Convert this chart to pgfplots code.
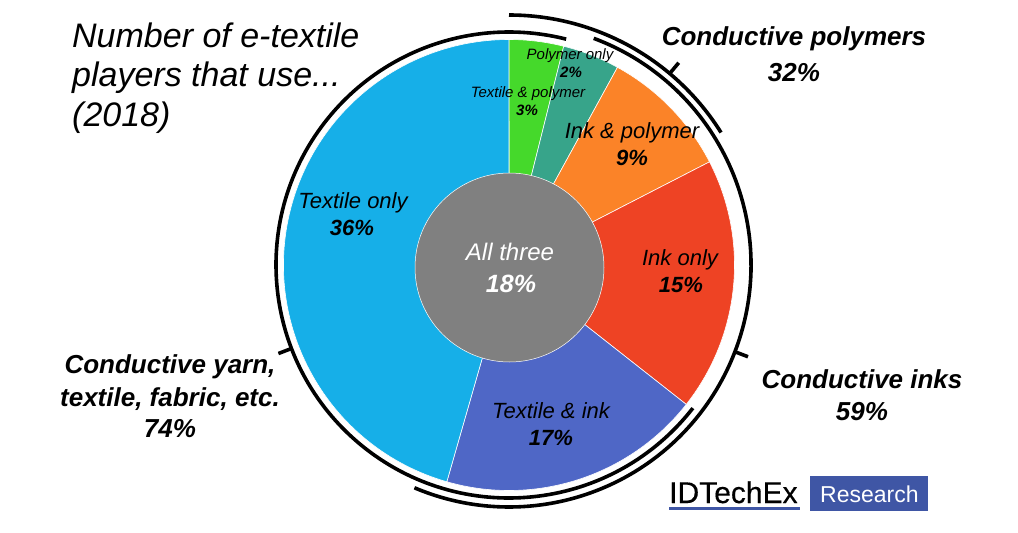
\documentclass[border=0pt]{standalone}
\usepackage{pgfplots}
\pgfplotsset{compat=1.18}
\usepackage{fontspec}
\setmainfont{Liberation Sans}
\newfontfamily\logofont[FakeBold=0.35]{Liberation Sans}

\definecolor{cGreen}{HTML}{45D92B}
\definecolor{cTeal}{HTML}{37A48A}
\definecolor{cOrange}{HTML}{FB8328}
\definecolor{cRed}{HTML}{EE4324}
\definecolor{cPurple}{HTML}{4F67C6}
\definecolor{cCyan}{HTML}{16AFE8}
\definecolor{cGray}{HTML}{808080}
\definecolor{logoBlue}{HTML}{3F56A5}

\newcommand\fs[1]{\fontsize{#1}{#1}\selectfont}

\begin{document}
\begin{tikzpicture}
% slice sizes of the outer ring as drawn, clockwise from the top
% (textile & polymer, polymer only, ink & polymer, ink only, textile & ink, textile only)
\pgfmathsetmacro\tot{3.2+3.35+7.75+14.9+15.45+37.35}
\pgfmathsetmacro\aA{90}
\pgfmathsetmacro\aB{\aA-3.2/\tot*360}
\pgfmathsetmacro\aC{\aB-3.35/\tot*360}
\pgfmathsetmacro\aD{\aC-7.75/\tot*360}
\pgfmathsetmacro\aE{\aD-14.9/\tot*360}
\pgfmathsetmacro\aF{\aE-15.45/\tot*360}
\pgfmathsetmacro\aG{\aF-37.35/\tot*360}
\def\cx{509}\def\cy{265}\def\R{225.5}
\begin{axis}[
    scale only axis,
    width=1018pt, height=533pt,
    xmin=0, xmax=1018, ymin=0, ymax=533,
    y dir=reverse,
    hide axis,
    clip=false,
  ]
  \path (axis cs:0,0) rectangle (axis cs:1018,533);

  % wedges
  \fill[cGreen, draw=white, line width=0.6pt] (axis cs:\cx,\cy) -- ++(\aA:\R pt) arc[start angle=\aA, end angle=\aB, radius=\R pt] -- cycle;
  \fill[cTeal, draw=white, line width=0.6pt] (axis cs:\cx,\cy) -- ++(\aB:\R pt) arc[start angle=\aB, end angle=\aC, radius=\R pt] -- cycle;
  \fill[cOrange, draw=white, line width=0.6pt] (axis cs:\cx,\cy) -- ++(\aC:\R pt) arc[start angle=\aC, end angle=\aD, radius=\R pt] -- cycle;
  \fill[cRed, draw=white, line width=0.6pt] (axis cs:\cx,\cy) -- ++(\aD:\R pt) arc[start angle=\aD, end angle=\aE, radius=\R pt] -- cycle;
  \fill[cPurple, draw=white, line width=0.6pt] (axis cs:\cx,\cy) -- ++(\aE:\R pt) arc[start angle=\aE, end angle=\aF, radius=\R pt] -- cycle;
  \fill[cCyan, draw=white, line width=0.6pt] (axis cs:\cx,\cy) -- ++(\aF:\R pt) arc[start angle=\aF, end angle=\aG, radius=\R pt] -- cycle;

  % centre: all three
  \fill[cGray, draw=white, line width=0.5pt] (axis cs:509.5,267.5) circle[radius=94.5pt];

  % group arcs (textile, inks, polymers)
  \draw[line width=3.6pt] (axis cs:\cx,\cy) ++(-37.9:233pt) arc[start angle=-37.9, end angle=-284.2, radius=233pt];
  \draw[line width=3.6pt] (axis cs:\cx,\cy) ++(69.5:242pt) arc[start angle=69.5, end angle=-113, radius=242pt];
  \draw[line width=3.6pt] (axis cs:\cx,\cy) ++(90:250pt) arc[start angle=90, end angle=32, radius=250pt];
  % pointer ticks
  \draw[line width=3.6pt] (axis cs:\cx,\cy) ++(50:250pt) -- ++(50:14pt);
  \draw[line width=3.6pt] (axis cs:\cx,\cy) ++(-21:242pt) -- ++(-21:14pt);
  \draw[line width=3.6pt] (axis cs:\cx,\cy) ++(-159:233pt) -- ++(-159:14pt);

  % title
  \node[anchor=base west, font=\fs{34}\itshape, inner sep=0pt] at (axis cs:72,47) {Number of e-textile};
  \node[anchor=base west, font=\fs{34}\itshape, inner sep=0pt] at (axis cs:72,86) {players that use...};
  \node[anchor=base west, font=\fs{34}\itshape, inner sep=0pt] at (axis cs:72,126) {(2018)};

  % group labels
  \node[anchor=base, font=\fs{26}\bfseries\itshape, inner sep=0pt] at (axis cs:794,45) {Conductive polymers};
  \node[anchor=base, font=\fs{26}\bfseries\itshape, inner sep=0pt] at (axis cs:794,81) {32\%};
  \node[anchor=base, font=\fs{26}\bfseries\itshape, inner sep=0pt] at (axis cs:862,388) {Conductive inks};
  \node[anchor=base, font=\fs{26}\bfseries\itshape, inner sep=0pt] at (axis cs:862,420) {59\%};
  \node[anchor=base, font=\fs{26}\bfseries\itshape, inner sep=0pt] at (axis cs:170,373) {Conductive yarn,};
  \node[anchor=base, font=\fs{26}\bfseries\itshape, inner sep=0pt] at (axis cs:170,406) {textile, fabric, etc.};
  \node[anchor=base, font=\fs{26}\bfseries\itshape, inner sep=0pt] at (axis cs:170,437) {74\%};

  % segment labels
  \node[anchor=base, font=\fs{15}\itshape, inner sep=0pt] at (axis cs:570,59) {Polymer only};
  \node[anchor=base, font=\fs{15}\bfseries\itshape, inner sep=0pt] at (axis cs:571,77) {2\%};
  \node[anchor=base, font=\fs{15}\itshape, inner sep=0pt] at (axis cs:528,97) {Textile \& polymer};
  \node[anchor=base, font=\fs{15}\bfseries\itshape, inner sep=0pt] at (axis cs:527,115) {3\%};
  \node[anchor=base, font=\fs{22}\itshape, inner sep=0pt] at (axis cs:632,138) {Ink \& polymer};
  \node[anchor=base, font=\fs{22}\bfseries\itshape, inner sep=0pt] at (axis cs:632,165) {9\%};
  \node[anchor=base, font=\fs{22}\itshape, inner sep=0pt] at (axis cs:680,265) {Ink only};
  \node[anchor=base, font=\fs{22}\bfseries\itshape, inner sep=0pt] at (axis cs:681,292) {15\%};
  \node[anchor=base, font=\fs{22}\itshape, inner sep=0pt] at (axis cs:551,418) {Textile \& ink};
  \node[anchor=base, font=\fs{22}\bfseries\itshape, inner sep=0pt] at (axis cs:551,445) {17\%};
  \node[anchor=base, font=\fs{22}\itshape, inner sep=0pt] at (axis cs:353,208) {Textile only};
  \node[anchor=base, font=\fs{22}\bfseries\itshape, inner sep=0pt] at (axis cs:352,235) {36\%};
  \node[anchor=base, font=\fs{24}\itshape, text=white, inner sep=0pt] at (axis cs:510,260) {All three};
  \node[anchor=base, font=\fs{25}\bfseries\itshape, text=white, inner sep=0pt] at (axis cs:511,292) {18\%};

  % logo
  \node[anchor=base west, font=\fs{30}\logofont, inner sep=0pt] at (axis cs:669,503) {IDTechEx};
  \fill[logoBlue] (axis cs:669,507) rectangle (axis cs:800,510);
  \fill[logoBlue] (axis cs:810,476) rectangle (axis cs:928,511);
  \node[anchor=base west, font=\fs{23}, text=white, inner sep=0pt] at (axis cs:820,502) {Research};
\end{axis}
\end{tikzpicture}
\end{document}
